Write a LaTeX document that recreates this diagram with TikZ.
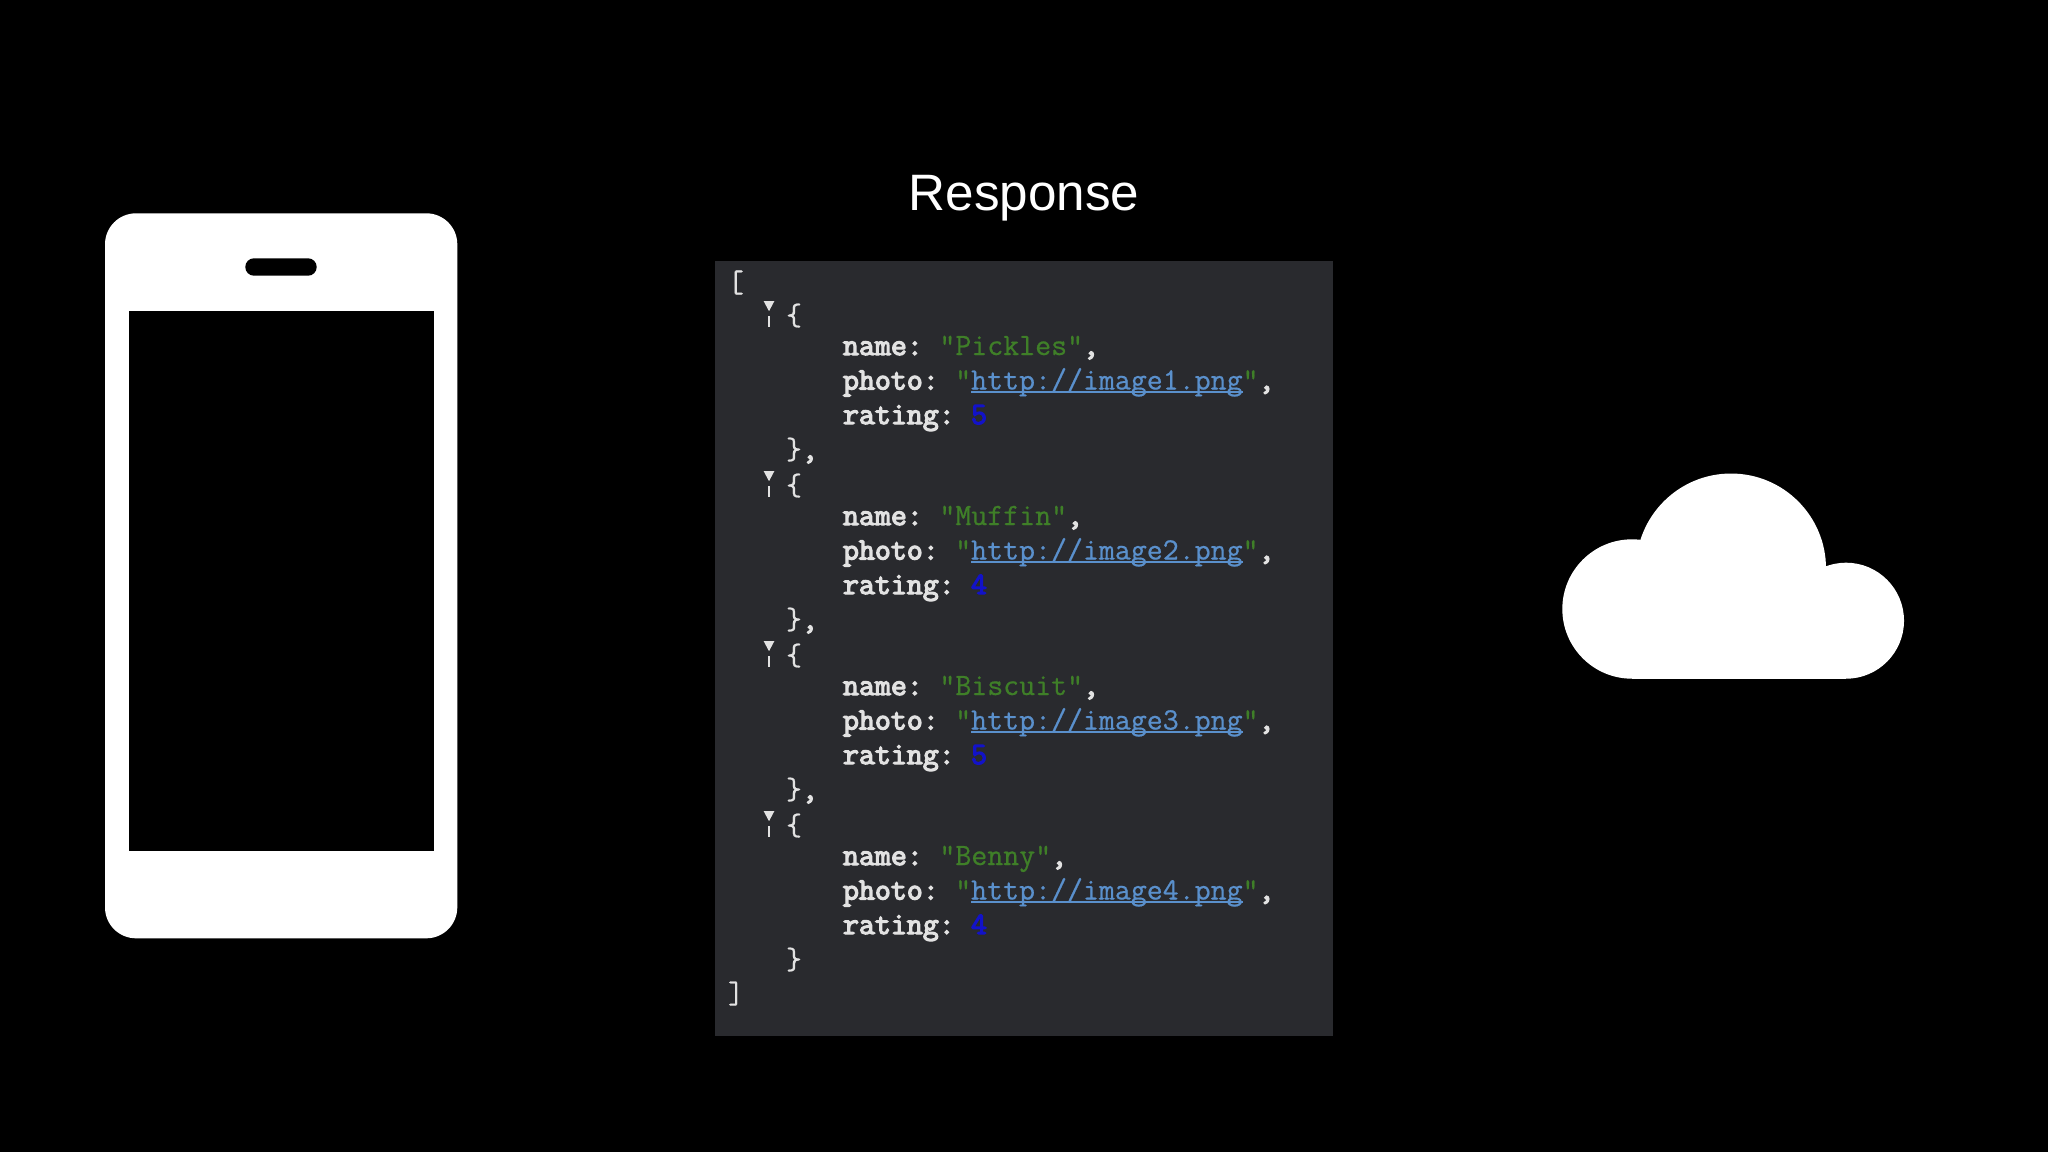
\documentclass[tikz,border=0pt]{standalone}
\usepackage{fontspec}
\setmainfont{Liberation Sans}
\newfontfamily\jmono{Latin Modern Mono}[FakeBold=0.6]
\newfontfamily\jmonob{Latin Modern Mono}[FakeBold=4]
\definecolor{panelc}{HTML}{292A2E}
\definecolor{textc}{HTML}{E2E2E2}
\definecolor{greenc}{HTML}{3F7F28}
\definecolor{linkc}{HTML}{5A90CC}
\definecolor{numc}{HTML}{1212C8}
\newcommand{\jk}[2]{\makebox[#1][l]{\textcolor{textc}{\jmonob\fontsize{15.5pt}{17pt}\selectfont #2}}}
\newcommand{\jb}[1]{\textcolor{textc}{\jmonob\fontsize{15.5pt}{17pt}\selectfont #1}}
\newcommand{\js}[1]{\textcolor{greenc}{#1}}
\newcommand{\jl}[1]{\textcolor{linkc}{\setbox0\hbox{#1}\rlap{\rule[-1.9pt]{\wd0}{1.1pt}}\box0}}
\newcommand{\jn}[1]{\textcolor{numc}{\jmonob\fontsize{15.5pt}{17pt}\selectfont #1}}
\tikzset{
  jsonline/.style={anchor=base west,inner sep=0pt,outer sep=0pt,text=textc,
    font=\jmono\fontsize{15.5pt}{17pt}\selectfont},
  toggle/.pic={
    \fill[textc] (-5.4,-5) -- (5.4,-5) -- (0,5.2) -- cycle;
    \fill[textc] (-1.4,10) rectangle (1.4,21);
  }
}
\begin{document}
\begin{tikzpicture}[x=0.5pt,y=-0.5pt]
\useasboundingbox (0,0) rectangle (2048,1152);
\fill[black] (0,0) rectangle (2048,1152);
% phone
\fill[white,rounded corners=15.5pt] (105,213.3) rectangle (457.3,938.3);
\fill[black] (129.3,311) rectangle (433.5,850.7);
\fill[black,rounded corners=4.3pt] (245.3,258.3) rectangle (316.7,275.7);
% cloud
\fill[white] (1632,609) circle[radius=34.85pt];
\fill[white] (1731,568.5) circle[radius=47.5pt];
\fill[white] (1846,620.7) circle[radius=29pt];
\fill[white] (1632,600) rectangle (1846,678.7);
% title
\node[anchor=base,inner sep=0pt,text=white,font=\fontsize{25.6pt}{30pt}\selectfont] (title) at (1024,210) {Response};
% panel
\fill[panelc] (715,261) rectangle (1333,1036);
\node[jsonline] (open) at (728,292) {[};
\foreach \n/\img/\rate/\comma [count=\i from 0] in {Pickles/1/5/{\jb{,}},Muffin/2/4/{\jb{,}},Biscuit/3/5/{\jb{,}},Benny/4/4/{}}{
  \pgfmathsetmacro{\yy}{325+170*\i}
  \pic at (769,{\yy-19}) {toggle};
  \node[jsonline] (o\i) at (786,\yy) {\{};
  \node[jsonline] (a\i) at (843,\yy+30) {\jk{48.2pt}{name:}\js{"\n"}\jb{,}};
  \node[jsonline] (b\i) at (843,\yy+64.5) {\jk{56.1pt}{photo:}\js{"}\jl{http://image\img.png}\js{"}\jb{,}};
  \node[jsonline] (c\i) at (843,\yy+99) {\jk{64pt}{rating:}\jn{\rate}};
  \node[jsonline] (d\i) at (786,\yy+134) {\}\comma};
}
\node[jsonline] (close) at (728,1003) {]};
\end{tikzpicture}
\end{document}
